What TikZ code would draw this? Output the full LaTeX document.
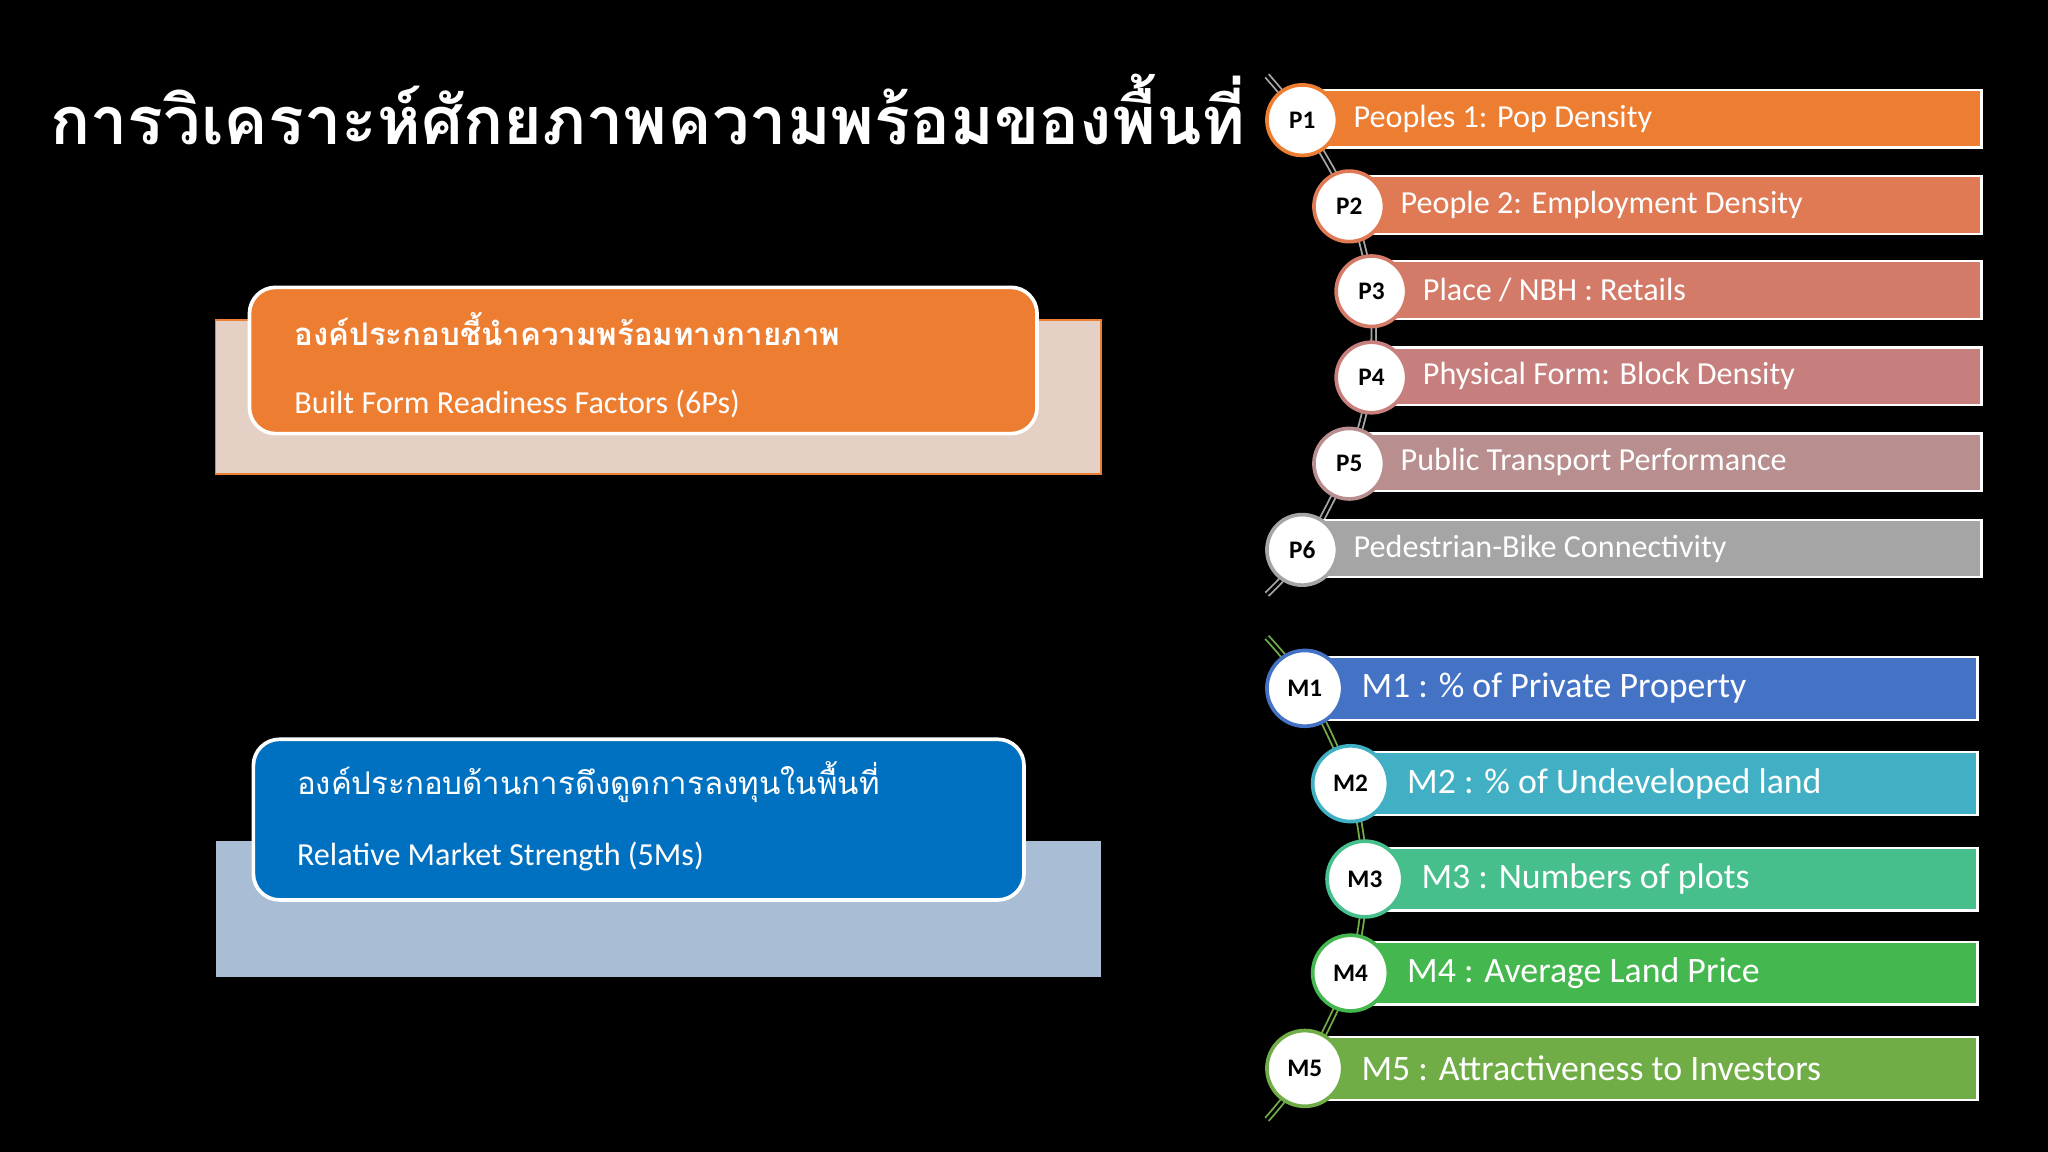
\documentclass[tikz,border=0pt]{standalone}
\usepackage{fontspec}
\setmainfont{Carlito}
\newfontfamily\thaifont[Script=Thai]{Loma}
\definecolor{obk}{RGB}{228,208,196}
\definecolor{ofr}{RGB}{237,125,49}
\definecolor{bbk}{RGB}{169,190,212}
\definecolor{bfr}{RGB}{0,112,192}
\definecolor{mgr}{RGB}{112,173,71}
\begin{document}
\begin{tikzpicture}[x=0.1mm,y=-0.1mm,
  bar/.style={draw=white,line width=0.5pt},
  circ/.style={circle,draw=#1,fill=white,line width=0.8pt,minimum size=5.4mm,inner sep=0pt,font=\bfseries\fontsize{5.5}{6}\selectfont},
  ltxt/.style={anchor=west,text=white,font=\fontsize{7}{8}\selectfont},
  mtxt/.style={anchor=west,text=white,font=\fontsize{7.8}{9}\selectfont}]
\fill[black] (0,0) rectangle (1568,882);
\node[anchor=west,text=white,font=\thaifont\bfseries\fontsize{14.5}{16}\selectfont] (title) at (26,84) {การวิเคราะห์ศักยภาพความพร้อมของพื้นที่};
% orange group
\draw[draw=ofr,fill=obk] (165,245) rectangle (843,363);
\draw[white,line width=0.8pt,fill=ofr,rounded corners=2mm] (191,220) rectangle (794,332);
\node[ltxt,font=\thaifont\bfseries\fontsize{6.8}{8}\selectfont] (o1) at (213,252) {องค์ประกอบชี้นำความพร้อมทางกายภาพ};
\node[ltxt] (o2) at (213,309) {Built Form Readiness Factors (6Ps)};
% blue group
\fill[bbk] (165,644) rectangle (843,748);
\draw[white,line width=0.8pt,fill=bfr,rounded corners=2mm] (194,566) rectangle (784,689);
\node[ltxt,font=\thaifont\fontsize{6.8}{8}\selectfont] (b1) at (215,599) {องค์ประกอบด้านการดึงดูดการลงทุนในพื้นที่};
\node[ltxt] (b2) at (215,656) {Relative Market Strength (5Ms)};
% P spine
\draw[gray!70,double=black,double distance=0.6pt,line width=0.4pt] plot[smooth] coordinates {(970,58) (997,92) (1033,156) (1050,222) (1050,288) (1033,354) (997,424) (970,455)};
\foreach \y/\cx/\lab/\txt/\r/\g/\b in {
 91/997/P1/{Peoples 1: Pop Density}/237/125/49,
 157/1033/P2/{People 2: Employment Density}/224/122/85,
 222/1050/P3/{Place / NBH : Retails}/211/123/104,
 288/1050/P4/{Physical Form: Block Density}/198/127/124,
 354/1033/P5/{Public Transport Performance}/184/142/142,
 420/997/P6/{Pedestrian-Bike Connectivity}/165/165/165}{
  \definecolor{c}{RGB}{\r,\g,\b}
  \path[bar,fill=c] (\cx,\y-22) rectangle (1517,\y+22);
  \node[circ=c] (\lab) at (\cx,\y+1) {\lab};
  \node[ltxt] (t\lab) at (\cx+27,\y) {\txt};
}
% M spine
\draw[mgr,double=black,double distance=0.6pt,line width=0.4pt] plot[smooth] coordinates {(970,488) (999,525) (1034,601) (1045,673) (1034,745) (999,819) (970,857)};
\foreach \y/\cx/\lab/\txt/\r/\g/\b in {
 527/999/M1/{M1 : \% of Private Property}/68/114/196,
 600/1034/M2/{M2 : \% of Undeveloped land}/65/176/196,
 673/1045/M3/{M3 : Numbers of plots}/70/191/140,
 745/1034/M4/{M4 : Average Land Price}/68/184/78,
 818/999/M5/{M5 : Attractiveness to Investors}/112/173/71}{
  \definecolor{c}{RGB}{\r,\g,\b}
  \path[bar,fill=c] (\cx,\y-24) rectangle (1514,\y+24);
  \node[circ=c,minimum size=5.8mm] (\lab) at (\cx,\y) {\lab};
  \node[mtxt] (t\lab) at (\cx+31,\y) {\txt};
}
\end{tikzpicture}
\end{document}
